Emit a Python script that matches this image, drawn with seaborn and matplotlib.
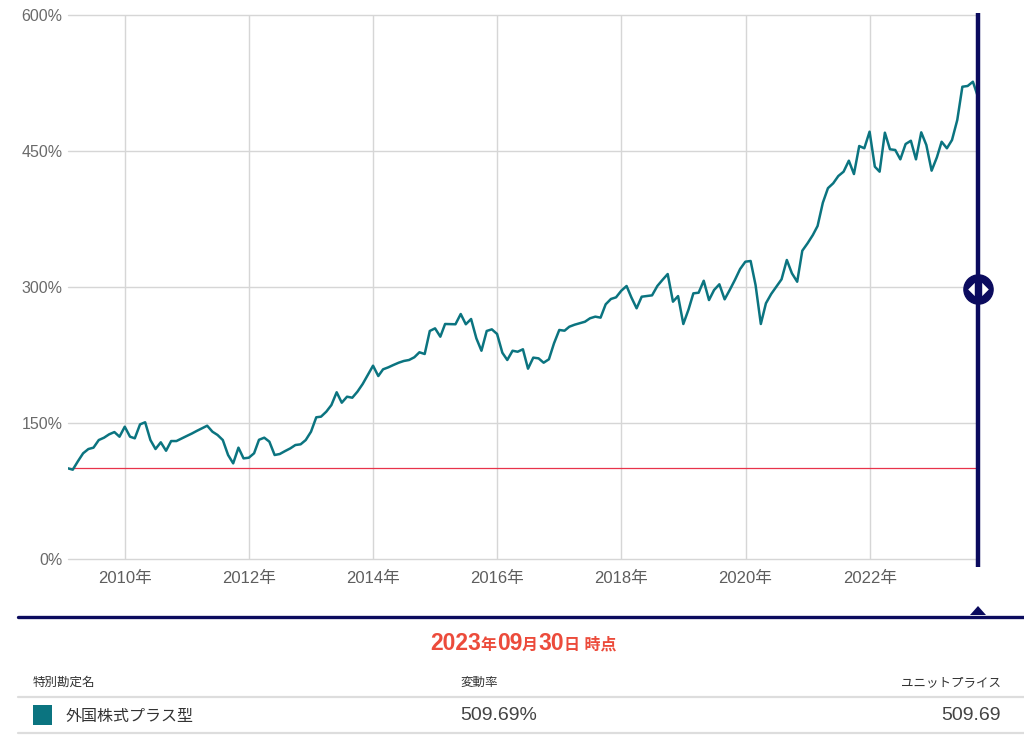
import matplotlib
matplotlib.use("Agg")
import matplotlib.pyplot as plt
import matplotlib.transforms as mtransforms
from matplotlib.lines import Line2D
from matplotlib.patches import Rectangle, Polygon
import numpy as np
import pandas as pd
import seaborn as sns

# ---------------- data ----------------
first_month_end = "2009-01-31"
last_month_end = "2023-09-30"
values_2009 = [100, 98.5, 108, 116.6, 121.3, 122.8, 131.2, 133.8, 137.5, 140, 134.9, 145.9]
values_2010 = [134.9, 133.1, 148.5, 150.8, 131.2, 121.3, 128.7, 119.4, 130.1, 130.1, 132.9, 135.7]
values_2011 = [138.5, 141.3, 144.2, 147, 140.4, 136.8, 131.2, 114.7, 105.5, 122.8, 111, 111.7]
values_2012 = [116.6, 131.5, 133.8, 129.4, 114.7, 115.8, 119, 122, 125.7, 126.5, 131.2, 140.4]
values_2013 = [156.3, 157, 162.5, 169.8, 183.9, 172.4, 179, 177.9, 184.5, 193, 202.9, 213.2]
values_2014 = [201.8, 209.2, 211.4, 214, 216.5, 218.4, 219.5, 222.5, 228, 226.1, 251.5, 254.4]
values_2015 = [245.2, 259.2, 259, 258.9, 270.2, 258.9, 264.7, 243.4, 229.7, 251.5, 253.3, 248.2]
values_2016 = [227.5, 219.5, 229.7, 228.6, 231.3, 209.9, 222.1, 221.3, 216.5, 220.3, 237.9, 252.6]
values_2017 = [251.8, 256.2, 258.4, 260, 261.7, 265.5, 267.3, 266.2, 280.9, 286.8, 288.6, 295.9]
values_2018 = [301.1, 288.6, 276.5, 289.3, 290, 290.8, 301.1, 308, 314.3, 283.8, 290, 259.2]
values_2019 = [275.4, 293, 293.7, 306.9, 285.6, 296.7, 303, 286.4, 296.7, 308, 319.8, 327.9]
values_2020 = [328.7, 302.2, 259.2, 282, 292.3, 300.3, 308.5, 329.8, 315.1, 305.8, 340, 348.2]
values_2021 = [357.3, 367.3, 393, 409, 414.4, 422.4, 427.2, 439.3, 424.6, 455.5, 453, 471.3]
values_2022 = [432.7, 427.2, 470.2, 451.9, 451.1, 440.8, 457.7, 461.3, 440.8, 470.6, 456.6, 428.3]
values_2023 = [443, 460.2, 453, 462.1, 484.2, 520.9, 521.7, 526.4, 509.69]

major_years = [2010, 2012, 2014, 2016, 2018, 2020, 2022]
minor_years = [2011, 2013, 2015, 2017, 2019, 2021, 2023]
y_ticks = [0, 150, 300, 450, 600]
baseline_value = 100
handle_value = 298

as_of_parts = ["2023", "年", "09", "月", "30", "日", " 時点"]
header_labels = ["特別勘定名", "変動率", "ユニットプライス"]
fund_name = "外国株式プラス型"
change_rate = "509.69%"
unit_price = "509.69"

# ---------------- build frame ----------------
values = (values_2009 + values_2010 + values_2011 + values_2012 + values_2013 +
          values_2014 + values_2015 + values_2016 + values_2017 + values_2018 +
          values_2019 + values_2020 + values_2021 + values_2022 + values_2023)
try:
    dates = pd.date_range(first_month_end, last_month_end, freq="ME")
except Exception:
    dates = pd.date_range(first_month_end, last_month_end, freq="M")
df = pd.DataFrame({"date": dates, "value": values})

# ---------------- style ----------------
sns.set_style("white")
plt.rcParams["font.family"] = ["Liberation Sans", "Noto Sans CJK JP", "DejaVu Sans"]

TEAL = "#0b7480"
NAVY = "#0b0b5e"
GRID = "#d6d6d6"
RED = "#e8334a"

W, H = 1024, 753
fig = plt.figure(figsize=(W / 100, H / 100), dpi=100)
ax_l, ax_r, ax_t, ax_b = 68, 978, 15, 559
ax = fig.add_axes([ax_l / W, 1 - ax_b / H, (ax_r - ax_l) / W, (ax_b - ax_t) / H])


def fx(px):
    return px / W


def fy(py):
    return 1 - py / H


# grid lines
for yv in y_ticks:
    ax.axhline(yv, color=GRID, lw=1.0, zorder=0, clip_on=False)
for yr in major_years:
    ax.axvline(pd.Timestamp(f"{yr}-01-01"), color=GRID, lw=1.0, zorder=0)

# baseline 100%
ax.axhline(baseline_value, color=RED, lw=0.9, zorder=1)

sns.lineplot(data=df, x="date", y="value", color=TEAL, linewidth=1.8, ax=ax, zorder=3)

ax.set_xlim(df["date"].iloc[0], df["date"].iloc[-1])
ax.set_ylim(0, 600)
for s in ax.spines.values():
    s.set_visible(False)
ax.set_xlabel("")
ax.set_ylabel("")

ax.set_yticks(y_ticks)
ax.set_yticklabels([f"{v}%" for v in y_ticks])
ax.tick_params(axis="y", length=0, pad=4, labelcolor="#6a6a6a", labelsize=11.5)

ax.set_xticks([pd.Timestamp(f"{y}-01-01") for y in major_years])
ax.set_xticklabels([f"{y}年" for y in major_years])
ax.set_xticks([pd.Timestamp(f"{y}-01-01") for y in minor_years], minor=True)
ax.tick_params(axis="x", which="major", length=0, pad=8.5, labelcolor="#5e5e5e", labelsize=12)
ax.tick_params(axis="x", which="minor", length=3, direction="in", color="#cccccc", width=1)
ax.grid(False)

# slider line + handle
last_date = df["date"].iloc[-1]
ax.axvline(last_date, ymin=-(567 - 559) / (ax_b - ax_t), ymax=1 + 2 / (ax_b - ax_t),
           color=NAVY, lw=3.2, clip_on=False, zorder=5, solid_capstyle="butt")
ax.plot([last_date], [handle_value], marker="o", markersize=21, color=NAVY,
        clip_on=False, zorder=6)
tri_left = [(-0.5, 0.0), (0.5, -1.0), (0.5, 1.0)]
tri_right = [(0.5, 0.0), (-0.5, -1.0), (-0.5, 1.0)]
off_l = mtransforms.offset_copy(ax.transData, fig=fig, x=-5.0, y=0, units="points")
off_r = mtransforms.offset_copy(ax.transData, fig=fig, x=5.0, y=0, units="points")
ax.plot([last_date], [handle_value], marker=tri_left, markersize=9.5, color="white",
        markeredgewidth=0, transform=off_l, clip_on=False, zorder=7)
ax.plot([last_date], [handle_value], marker=tri_right, markersize=9.5, color="white",
        markeredgewidth=0, transform=off_r, clip_on=False, zorder=7)

# ---------------- lower panel ----------------
fig.add_artist(Line2D([fx(18), fx(1024)], [fy(616.5), fy(616.5)], color=NAVY, lw=2.4))
fig.add_artist(Polygon([[fx(970), fy(615)], [fx(986), fy(615)], [fx(978), fy(606)]],
                       closed=True, transform=fig.transFigure, color=NAVY, lw=0))

# as-of date text (mixed sizes)
renderer = fig.canvas.get_renderer()
RED_T = "#ec4b3b"
sizes = [16.5, 11.5, 16.5, 11.5, 16.5, 11.5, 11.5]
texts = []
x_cursor = 0.0
for part, sz in zip(as_of_parts, sizes):
    t = fig.text(0, fy(650), part, fontsize=sz, fontweight="bold", color=RED_T,
                 ha="left", va="baseline")
    bb = t.get_window_extent(renderer=renderer)
    texts.append((t, x_cursor))
    x_cursor += bb.width
start_px = 523 - x_cursor / 2
for t, off in texts:
    t.set_x(fx(start_px + off))

# table
HDR = "#333333"
fig.text(fx(33), fy(683), header_labels[0], fontsize=9, color=HDR, ha="left", va="center")
fig.text(fx(460), fy(683), header_labels[1], fontsize=9, color=HDR, ha="left", va="center")
fig.text(fx(1001), fy(683), header_labels[2], fontsize=9, color=HDR, ha="right", va="center")
fig.add_artist(Line2D([fx(18), fx(1024)], [fy(697), fy(697)], color="#dddddd", lw=1.6))
fig.add_artist(Rectangle((fx(33), fy(725)), fx(19), 20 / H, transform=fig.transFigure,
                         color=TEAL, lw=0))
fig.text(fx(66), fy(716), fund_name, fontsize=11.5, color="#333333", ha="left", va="center")
fig.text(fx(460), fy(716), change_rate, fontsize=14, color="#444444", ha="left", va="center")
fig.text(fx(1001), fy(716), unit_price, fontsize=14, color="#444444", ha="right", va="center")
fig.add_artist(Line2D([fx(18), fx(1024)], [fy(733), fy(733)], color="#dddddd", lw=1.6))

fig.savefig("out.png", dpi=100)
